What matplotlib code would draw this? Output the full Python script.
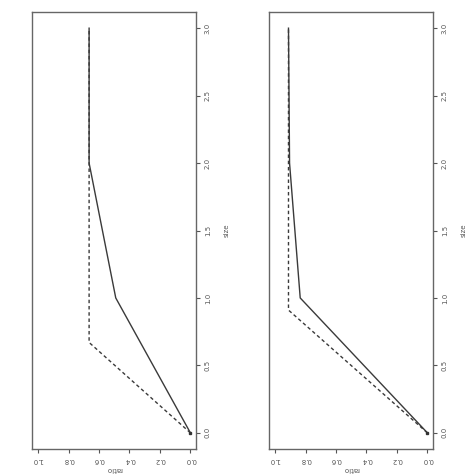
import matplotlib
matplotlib.use("Agg")
import matplotlib.pyplot as plt

size = [0.0, 1.0, 2.0, 3.0]
ratio_top_solid = [0.0, 0.49, 0.665, 0.665]
size_top_dash = [0.0, 0.67, 3.0]
ratio_top_dash = [0.0, 0.665, 0.665]

ratio_bot_solid = [0.0, 0.835, 0.905, 0.912]
size_bot_dash = [0.0, 0.91, 3.0]
ratio_bot_dash = [0.0, 0.912, 0.912]

size_ticks = [0.0, 0.5, 1.0, 1.5, 2.0, 2.5, 3.0]
ratio_ticks = [0.0, 0.2, 0.4, 0.6, 0.8, 1.0]

grey = "#555555"

fig = plt.figure(figsize=(4.74, 4.74), dpi=100)

panels = [
    (0.0675, ratio_top_solid, size_top_dash, ratio_top_dash),
    (0.5675, ratio_bot_solid, size_bot_dash, ratio_bot_dash),
]

for left, solid, dsize, dratio in panels:
    ax = fig.add_axes([left, 0.0527, 0.347, 0.922])
    # plot is drawn rotated: ratio runs right-to-left, size runs upward
    ax.plot(solid, size, color="#3a3a3a", lw=1.0)
    ax.plot(dratio, dsize, color="#3a3a3a", lw=1.0, ls=(0, (2.5, 2)))
    ax.plot([0], [0], marker="s", ms=1.8, color="#333333")
    ax.set_xlim(1.04, -0.04)
    ax.set_ylim(-0.12, 3.12)

    ax.set_xticks(ratio_ticks)
    ax.set_xticklabels([f"{t:.1f}" for t in ratio_ticks], rotation=180)
    ax.yaxis.tick_right()
    ax.yaxis.set_label_position("right")
    ax.set_yticks(size_ticks)
    ax.set_yticklabels([f"{t:.1f}" for t in size_ticks], rotation=90, va="center")

    ax.tick_params(direction="out", length=3, width=0.8, colors=grey,
                   labelsize=5, pad=3)
    for sp in ax.spines.values():
        sp.set_color("#666666")
        sp.set_linewidth(1.0)

    ax.set_xlabel("ratio", fontsize=5, color=grey, rotation=180, labelpad=2)
    ax.set_ylabel("size", fontsize=5, color=grey, rotation=90, labelpad=9)

plt.savefig("out.png", dpi=100)
